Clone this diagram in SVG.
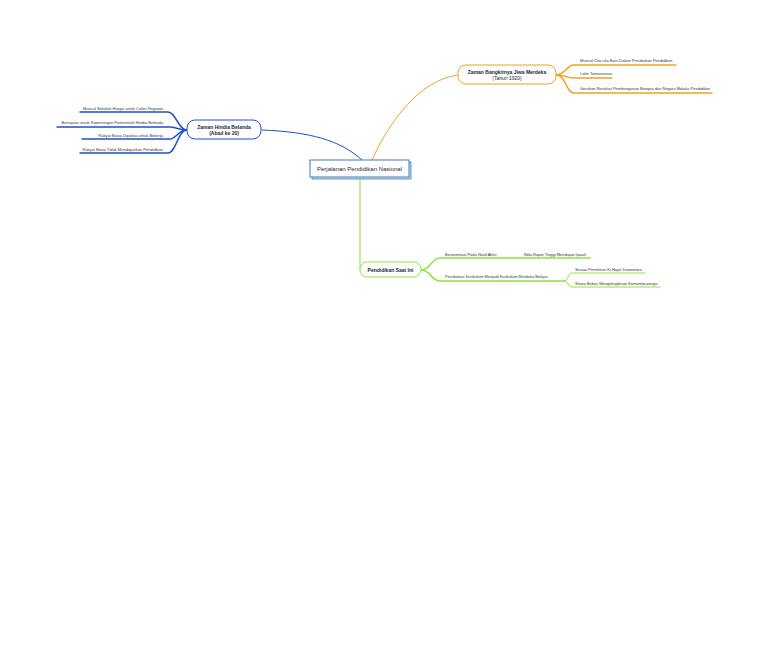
<svg xmlns="http://www.w3.org/2000/svg" width="768" height="654" viewBox="0 0 768 654">
<style>
text{font-family:"Liberation Sans",Arial,sans-serif;fill:#333}
.leaf{font-size:4px}
.node{font-size:5px;font-weight:bold;fill:#1a2a3a;text-anchor:middle}
.b{stroke:#1f4fd1;fill:none}
.o{stroke:#f0a21f;fill:none}
.g{stroke:#8fe33a;fill:none}
</style>
<rect width="768" height="654" fill="#fff"/>
<g id="connectors" stroke-linecap="round">
<path class="b" stroke-width="1" d="M262,130 C310,132 340,140 362,160"/>
<path class="o" stroke-width="1" d="M372,160 C390,120 420,80 458,75"/>
<path class="g" stroke-width="1" d="M360,177 L360,268 C360,270 361,270 362,270"/>
<path class="b" stroke-width="1.5" d="M187,130 C178,130 176,112 168,112 L80,112"/>
<path class="b" stroke-width="1.5" d="M187,130 C178,130 176,127 170,127 L57,127"/>
<path class="b" stroke-width="1.5" d="M187,130 C178,130 176,139 170,139 L82,139"/>
<path class="b" stroke-width="1.5" d="M187,130 C178,130 176,153 168,153 L80,153"/>
<path class="o" stroke-width="1.5" d="M556,75 C566,75 566,65 574,65 L676,65"/>
<path class="o" stroke-width="1.5" d="M556,75 C566,75 566,78 574,78 L612,78"/>
<path class="o" stroke-width="1.5" d="M556,75 C566,75 566,93 574,93 L712,93"/>
<path class="g" stroke-width="1.5" d="M421,270 C431,270 431,258 440,258 L590,258"/>
<path class="g" stroke-width="1.5" d="M421,270 C431,270 431,281 440,281 L565,281"/>
<path class="g" stroke-width="1" d="M565,281 C568,281 568,273 572,273 L645,273"/>
<path class="g" stroke-width="1" d="M565,281 C568,281 568,287 572,287 L660,287"/>
</g>
<g id="center">
<rect x="312" y="162" width="99" height="17" fill="#cfe3ef" stroke="#3a7cb8" stroke-width="0.8"/>
<rect x="310" y="160" width="99" height="17" fill="#fff" stroke="#3a7cb8" stroke-width="1"/>
<text x="359.5" y="171" class="node" style="font-weight:normal;font-size:6px">Perjalanan Pendidikan Nasional</text>
</g>
<g id="blue">
<rect x="187" y="120" width="74" height="19" rx="8" fill="#fff" stroke="#1f4fd1" stroke-width="1"/>
<text x="224" y="129" class="node">Zaman Hindia Belanda</text>
<text x="224" y="135" class="node">(Abad ke 20)</text>
<text x="163" y="110" class="leaf" text-anchor="end">Muncul Sekolah Hanya untuk Calon Pegawai</text>
<text x="163" y="124" class="leaf" text-anchor="end">Bertujuan untuk Kepentingan Pemerintah Hindia Belanda</text>
<text x="163" y="137" class="leaf" text-anchor="end">Rakyat Biasa Dipaksa untuk Bekerja</text>
<text x="163" y="151" class="leaf" text-anchor="end">Rakyat Biasa Tidak Mendapatkan Pendidikan</text>
</g>
<g id="orange">
<rect x="458" y="65" width="98" height="19" rx="8" fill="#fff" stroke="#f0a21f" stroke-width="1"/>
<text x="507" y="74" class="node">Zaman Bangkitnya Jiwa Merdeka</text>
<text x="507" y="80" class="node" style="font-weight:normal">(Tahun 1920)</text>
<text x="580" y="62" class="leaf">Muncul Cita-cita Baru Dalam Perubahan Pendidikan</text>
<text x="580" y="75" class="leaf">Lahir Tamansiswa</text>
<text x="580" y="90" class="leaf">Gerakan Revolusi Pembangunan Bangsa dan Negara Melalui Pendidikan</text>
</g>
<g id="green">
<rect x="360" y="262" width="61" height="15" rx="7" fill="#fff" stroke="#8fe33a" stroke-width="1"/>
<text x="390.5" y="271.5" class="node">Pendidikan Saat Ini</text>
<text x="445" y="255.5" class="leaf">Berorientasi Pada Hasil Akhir</text>
<text x="524" y="255.5" class="leaf">Nilai Rapor Tinggi Mendapat Ijazah</text>
<text x="445" y="278" class="leaf">Perubahan Kurikulum Menjadi Kurikulum Merdeka Belajar</text>
<text x="575" y="270.5" class="leaf">Sesuai Pemikiran Ki Hajar Dewantara</text>
<text x="575" y="284.5" class="leaf">Siswa Bebas Mengeksplorasi Kemampuannya</text>
</g>
</svg>
